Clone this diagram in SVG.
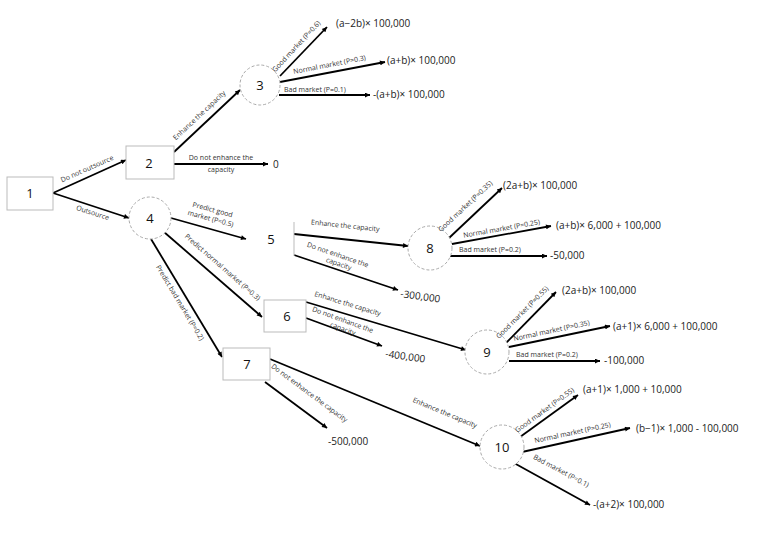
<svg xmlns="http://www.w3.org/2000/svg" width="783" height="556" viewBox="0 0 783 556">
<defs>
<marker id="a" viewBox="0 0 10 10" refX="10" refY="5" markerWidth="7" markerHeight="5" orient="auto" markerUnits="userSpaceOnUse"><path d="M0,0L10,5L0,10z" fill="#000"/></marker>
<style>
.e line{stroke:#000;stroke-width:1.8;marker-end:url(#a)}
.b{fill:#fff;stroke:#bbb;stroke-width:1}
.c{fill:#fff;stroke:#aaa;stroke-width:1;stroke-dasharray:3 2}
.n{font:13px "Open Sans",sans-serif;fill:#111;text-anchor:middle;dominant-baseline:central}
.l{font:7px "Open Sans",sans-serif;fill:#333;text-anchor:middle}
.v{font:10px "Open Sans",sans-serif;fill:#222}
</style>
</defs>
<rect width="783" height="556" fill="#fff"/>
<g class="e" id="connectors">
<line x1="53" y1="193" x2="126" y2="160"/>
<line x1="53" y1="193" x2="129" y2="218"/>
<line x1="174" y1="152" x2="240" y2="90"/>
<line x1="174" y1="164" x2="268" y2="164"/>
<line x1="280" y1="76" x2="327" y2="27"/>
<line x1="280" y1="82" x2="385" y2="62"/>
<line x1="279" y1="95" x2="370" y2="95"/>
<line x1="171" y1="218" x2="246" y2="239"/>
<line x1="164" y1="232" x2="262" y2="317"/>
<line x1="151" y1="239" x2="222" y2="357"/>
<line x1="294" y1="234" x2="408" y2="246"/>
<line x1="294" y1="255" x2="398" y2="290"/>
<line x1="449" y1="238" x2="502" y2="188"/>
<line x1="452" y1="244" x2="551" y2="226"/>
<line x1="450" y1="256" x2="547" y2="256"/>
<line x1="306" y1="302" x2="466" y2="350"/>
<line x1="306" y1="318" x2="382" y2="346"/>
<line x1="506" y1="343" x2="556" y2="292"/>
<line x1="509" y1="347" x2="610" y2="326"/>
<line x1="509" y1="361" x2="600" y2="361"/>
<line x1="270" y1="359" x2="480" y2="446"/>
<line x1="265" y1="382" x2="327" y2="428"/>
<line x1="520" y1="437" x2="578" y2="395"/>
<line x1="522" y1="452" x2="630" y2="428"/>
<line x1="514" y1="463" x2="590" y2="505"/>
</g>
<g id="n1"><rect class="b" x="7" y="177" width="46" height="33"/><text class="n" x="30" y="193">1</text></g>
<g id="n2"><rect class="b" x="126" y="146" width="48" height="33"/><text class="n" x="149" y="163">2</text></g>
<g id="n3"><circle class="c" cx="260" cy="85" r="20"/><text class="n" x="260" y="85">3</text></g>
<g id="n4"><circle class="c" cx="150" cy="218" r="21"/><text class="n" x="150" y="218">4</text></g>
<g id="n5"><rect x="247" y="222" width="47" height="34" fill="#fff"/><line x1="294" y1="222" x2="294" y2="256" stroke="#bbb"/><text class="n" x="271" y="239">5</text></g>
<g id="n6"><rect class="b" x="264" y="300" width="42" height="32" stroke="#ddd"/><text class="n" x="287" y="316">6</text></g>
<g id="n7"><rect class="b" x="223" y="348" width="47" height="32"/><text class="n" x="247" y="364">7</text></g>
<g id="n8"><circle class="c" cx="430" cy="248" r="22"/><text class="n" x="430" y="248">8</text></g>
<g id="n9"><circle class="c" cx="487" cy="352" r="22"/><text class="n" x="487" y="352">9</text></g>
<g id="n10"><circle class="c" cx="502" cy="447" r="22"/><text class="n" x="502" y="447">10</text></g>
<g id="labels">
<text class="l" transform="translate(88,171) rotate(-24)">Do not outsource</text>
<text class="l" transform="translate(92,215) rotate(18)">Outsource</text>
<text class="l" transform="translate(201,117) rotate(-43)">Enhance the capacity</text>
<text class="l" x="221" y="160">Do not enhance the</text>
<text class="l" x="221" y="172">capacity</text>
<text class="l" transform="translate(298,48) rotate(-47)">Good market (P=0.6)</text>
<text class="l" transform="translate(330,67) rotate(-11)">Normal market (P=0.3)</text>
<text class="l" x="315" y="92">Bad market (P=0.1)</text>
<text class="l" transform="translate(212,212) rotate(15)">Predict good</text>
<text class="l" transform="translate(210,221) rotate(15)">market (P=0.5)</text>
<text class="l" transform="translate(221,269) rotate(41)">Predict normal market (P=0.3)</text>
<text class="l" transform="translate(178,304) rotate(59)">Predict bad market (P=0.2)</text>
<text class="l" transform="translate(345,228) rotate(6)">Enhance the capacity</text>
<text class="l" transform="translate(337,257) rotate(19)">Do not enhance the</text>
<text class="l" transform="translate(338,266) rotate(19)">capacity</text>
<text class="l" transform="translate(467,208) rotate(-43)">Good market (P=0.35)</text>
<text class="l" transform="translate(502,231) rotate(-10)">Normal market (P=0.25)</text>
<text class="l" x="490" y="252">Bad market (P=0.2)</text>
<text class="l" transform="translate(347,306) rotate(17)">Enhance the capacity</text>
<text class="l" transform="translate(342,322) rotate(20)">Do not enhance the</text>
<text class="l" transform="translate(342,331) rotate(20)">capacity</text>
<text class="l" transform="translate(524,314) rotate(-45)">Good market (P=0.55)</text>
<text class="l" transform="translate(552,333) rotate(-12)">Normal market (P=0.35)</text>
<text class="l" x="547" y="357">Bad market (P=0.2)</text>
<text class="l" transform="translate(444,415) rotate(22.5)">Enhance the capacity</text>
<text class="l" transform="translate(308,395) rotate(36.6)">Do not enhance the capacity</text>
<text class="l" transform="translate(546,412) rotate(-36)">Good market (P=0.55)</text>
<text class="l" transform="translate(573,435) rotate(-12)">Normal market (P=0.25)</text>
<text class="l" transform="translate(560,473) rotate(28)">Bad market (P=0.1)</text>
</g>
<g id="values">
<text class="v" x="273" y="168">0</text>
<text class="v" x="336" y="27">(a−2b)× 100,000</text>
<text class="v" x="387" y="64">(a+b)× 100,000</text>
<text class="v" x="373" y="98">-(a+b)× 100,000</text>
<text class="v" x="503" y="189">(2a+b)× 100,000</text>
<text class="v" x="556" y="229">(a+b)× 6,000 + 100,000</text>
<text class="v" x="550" y="259">-50,000</text>
<text class="v" transform="translate(400,297) rotate(8)">-300,000</text>
<text class="v" transform="translate(385,357) rotate(8)">-400,000</text>
<text class="v" x="562" y="294">(2a+b)× 100,000</text>
<text class="v" x="613" y="330">(a+1)× 6,000 + 100,000</text>
<text class="v" x="604" y="364">-100,000</text>
<text class="v" x="328" y="445">-500,000</text>
<text class="v" x="583" y="393">(a+1)× 1,000 + 10,000</text>
<text class="v" x="636" y="432">(b−1)× 1,000 - 100,000</text>
<text class="v" x="593" y="508">-(a+2)× 100,000</text>
</g>
</svg>
